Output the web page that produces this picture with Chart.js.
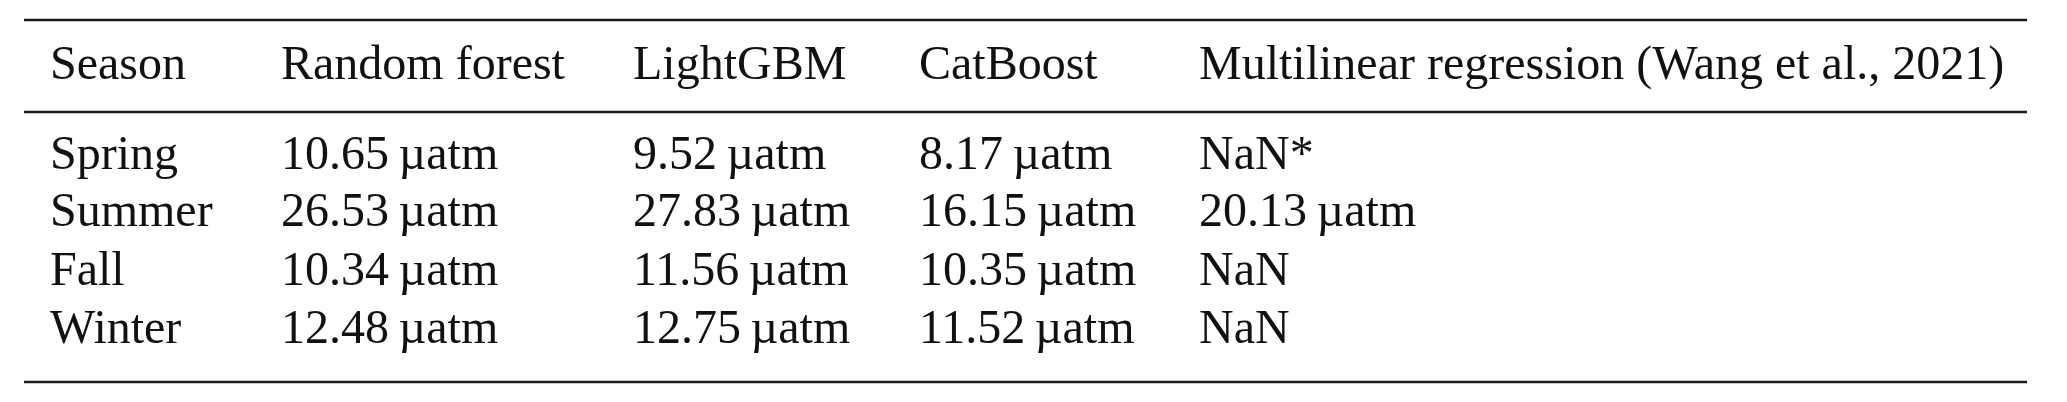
<!DOCTYPE html>
<html>
<head>
<meta charset="utf-8">
<script src="https://cdn.jsdelivr.net/npm/chart.js@4/dist/chart.umd.min.js"></script>
<style>
  html, body { margin: 0; padding: 0; background: #fff; }
  #wrap { width: 2067px; height: 402px; }
</style>
</head>
<body>
<div id="wrap"><canvas id="tbl"></canvas></div>
<script>
'use strict';

// table content
var headers = ['Season', 'Random forest', 'LightGBM', 'CatBoost', 'Multilinear regression (Wang et al., 2021)'];
var seasons = ['Spring', 'Summer', 'Fall', 'Winter'];
var randomForest = [10.65, 26.53, 10.34, 12.48];
var lightGBM = [9.52, 27.83, 11.56, 12.75];
var catBoost = [8.17, 16.15, 10.35, 11.52];
var multilinear = ['NaN*', 20.13, 'NaN', 'NaN'];

// layout
var colX = [50, 281, 633, 919, 1199];
var headerY = 66;
var rowY = [156, 213, 272, 330];
var rules = [20, 112, 382];
var ruleLeft = 24, ruleRight = 2027;

function fmt(v) {
    return typeof v === 'number' ? v.toFixed(2) + '\u2009\u00b5atm' : v;
}

var tablePlugin = {
    id: 'tablePlugin',
    afterDraw: function (chart) {
        var ctx = chart.ctx;
        ctx.save();
        ctx.strokeStyle = '#1a1a1a';
        ctx.lineWidth = 2.5;
        rules.forEach(function (y) {
            ctx.beginPath();
            ctx.moveTo(ruleLeft, y);
            ctx.lineTo(ruleRight, y);
            ctx.stroke();
        });
        ctx.fillStyle = '#111';
        ctx.font = '48px "Liberation Serif", "DejaVu Serif", serif';
        ctx.textBaseline = 'middle';
        ctx.textAlign = 'left';
        headers.forEach(function (h, i) {
            ctx.fillText(h, colX[i], headerY);
        });
        var cols = [seasons, randomForest, lightGBM, catBoost, multilinear];
        seasons.forEach(function (s, r) {
            cols.forEach(function (col, c) {
                ctx.fillText(fmt(col[r]), colX[c], rowY[r]);
            });
        });
        ctx.restore();
    }
};

new Chart(document.getElementById('tbl'), {
    type: 'bar',
    data: { labels: seasons, datasets: [] },
    options: {
        responsive: true,
        maintainAspectRatio: false,
        animation: false,
        plugins: { legend: { display: false }, tooltip: { enabled: false } },
        scales: { x: { display: false }, y: { display: false } }
    },
    plugins: [tablePlugin]
});
</script>
</body>
</html>
